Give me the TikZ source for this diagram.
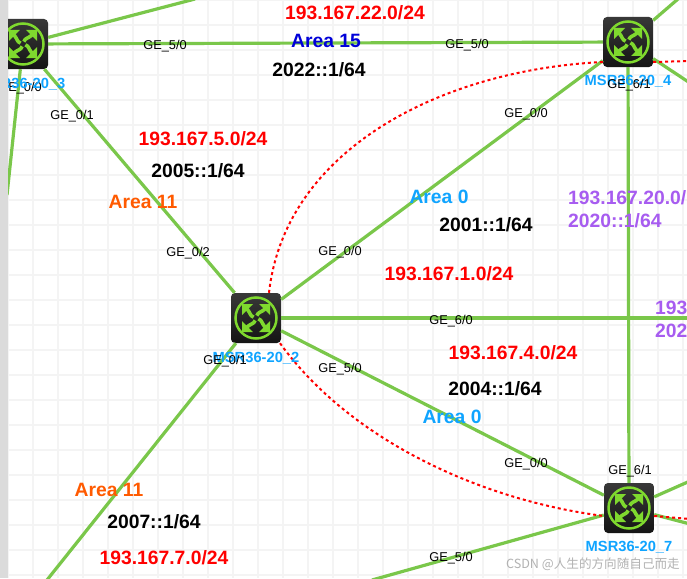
\documentclass[tikz,border=0pt]{standalone}
\usepackage{fontspec}
\setmainfont{Liberation Sans}
\newfontfamily\cjkfont{Noto Sans CJK SC}
\definecolor{gridc}{HTML}{F4F4F4}
\definecolor{linkc}{HTML}{7AC74A}
\definecolor{iconc}{HTML}{7FD92E}
\definecolor{labelblue}{HTML}{0FA4FF}
\definecolor{areaorange}{HTML}{FF5A00}
\definecolor{purplec}{HTML}{A75CF0}
\tikzset{
  x=1pt,y=-1pt,
  routerbox/.style={draw=none,minimum size=50pt,inner sep=0pt,rounded corners=4pt,top color=black!78,bottom color=black!92},
  link/.style={draw=linkc,line width=3.2pt},
  redlink/.style={draw=red,line width=2pt,dash pattern=on 3pt off 3pt},
  port/.style={font=\fontsize{12.8}{14}\selectfont,text=black,inner sep=0pt,yshift=-1.5pt},
  devname/.style={font=\bfseries\fontsize{14.7}{16}\selectfont,text=labelblue,inner sep=0pt,yshift=-1pt},
  big/.style={font=\bfseries\fontsize{19.3}{21}\selectfont,inner sep=0pt,yshift=-1pt},
  redtxt/.style={big,text=red},
  blacktxt/.style={big,text=black},
  areablue/.style={big,text=labelblue},
  areao/.style={big,text=areaorange},
  purpletxt/.style={big,text=purplec,anchor=west},
}
\newcommand{\quadarrow}[1]{%
  \begin{scope}[rotate=#1]
    \fill[iconc] (14,-14) -- (3,-14) -- (14,-3) -- cycle;
    \draw[iconc,line width=3.6pt] (9,-9) .. controls (6,-6) and (2,-6) .. (0.8,-2.4);
  \end{scope}}
\newcommand{\routericon}[1]{%
  \begin{scope}[shift={(#1.center)}]
    \draw[iconc,line width=2.5pt] (0,0) circle (20.5pt);
    \quadarrow{0}\quadarrow{90}\quadarrow{180}\quadarrow{270}
  \end{scope}}
\begin{document}
\begin{tikzpicture}
\useasboundingbox (0,0) rectangle (687,578);
\clip (0,0) rectangle (687,578);
\fill[white] (0,0) rectangle (687,578);
\foreach \i in {0,...,27} {\draw[gridc,line width=2.6pt] (8+25*\i,0) -- (8+25*\i,578);}
\foreach \j in {0,...,23} {\draw[gridc,line width=2.6pt] (0,25*\j) -- (687,25*\j);}

\node[routerbox] (r3) at (23,44) {};
\node[routerbox] (r4) at (628,42) {};
\node[routerbox] (r2) at (256,318) {};
\node[routerbox] (r7) at (629,508) {};
\routericon{r3}\routericon{r4}\routericon{r2}\routericon{r7}

\coordinate (e1) at (195,-1);
\coordinate (e2) at (7,195);
\coordinate (e3) at (678,-1);
\coordinate (e4) at (690,83);
\coordinate (e5) at (690,318);
\coordinate (e6) at (47,580);
\coordinate (e7) at (372,580);
\coordinate (e8) at (690,481);
\coordinate (e9) at (690,524);
\coordinate (e10) at (690,61);
\coordinate (e11) at (690,519);

\draw[link] (r3) -- (e1);
\draw[link] (r3) -- (r4);
\draw[link] (r3) -- (e2);
\draw[link] (r3) -- (r2);
\draw[link] (r2) -- (r4);
\draw[link] (r2) -- (e5);
\draw[link] (r2) -- (r7);
\draw[link] (r2) -- (e6);
\draw[link] (r4) -- (r7);
\draw[link] (r4) -- (e3);
\draw[link] (r4) -- (e4);
\draw[link] (r7) -- (e7);
\draw[link] (r7) -- (e8);
\draw[link] (r7) -- (e9);
\draw[redlink] (r2.north) ++(13,0) .. controls (285,150) and (440,70) .. (r4.west |- 0,62);
\draw[redlink] (r4.east |- 0,62) -- (e10);
\draw[redlink] (r2.south) ++(24,0) .. controls (350,440) and (480,500) .. (r7.west |- 0,516);
\draw[redlink] (r7.east |- 0,516) -- (e11);

\node[port] (p1) at (165,45) {GE\_5/0};
\node[port] (p2) at (467,44) {GE\_5/0};
\node[port] (p3) at (72,115) {GE\_0/1};
\node[port] (p4) at (20,87) {GE\_0/0};
\node[port] (p5) at (188,252) {GE\_0/2};
\node[port] (p6) at (340,251) {GE\_0/0};
\node[port] (p7) at (526,113) {GE\_0/0};
\node[devname] (n3) at (22,83) {MSR36-20\_3};
\node[devname] (n4) at (628,80) {MSR36-20\_4};
\node[port] (p8) at (629,84) {GE\_6/1};
\node[port] (p9) at (451,320) {GE\_6/0};
\node[devname] (n2) at (256,357) {MSR36-20\_2};
\node[port] (p10) at (225,360) {GE\_0/1};
\node[port] (p11) at (340,368) {GE\_5/0};
\node[port] (p12) at (526,463) {GE\_0/0};
\node[port] (p13) at (630,470) {GE\_6/1};
\node[devname] (n7) at (629,546) {MSR36-20\_7};
\node[port] (p14) at (451,557) {GE\_5/0};

\node[redtxt] (t1) at (355,12) {193.167.22.0/24};
\node[big,text=blue!85!black] (t2) at (326,40) {Area 15};
\node[blacktxt] (t3) at (319,69) {2022::1/64};
\node[redtxt] (t4) at (203,138) {193.167.5.0/24};
\node[blacktxt] (t5) at (198,170) {2005::1/64};
\node[areao] (t6) at (143,201) {Area 11};
\node[areablue] (t7) at (439,196) {Area 0};
\node[blacktxt] (t8) at (486,224) {2001::1/64};
\node[redtxt] (t9) at (449,273) {193.167.1.0/24};
\node[purpletxt] (t10) at (568,197) {193.167.20.0/};
\node[purpletxt] (t11) at (568,220) {2020::1/64};
\node[purpletxt] (t12) at (655,307) {193};
\node[purpletxt] (t13) at (655,330) {202};
\node[redtxt] (t14) at (513,352) {193.167.4.0/24};
\node[blacktxt] (t15) at (495,388) {2004::1/64};
\node[areablue] (t16) at (452,416) {Area 0};
\node[areao] (t17) at (109,489) {Area 11};
\node[blacktxt] (t18) at (154,521) {2007::1/64};
\node[redtxt] (t19) at (164,557) {193.167.7.0/24};
\node[font=\fontsize{12.6}{14}\selectfont\cjkfont,text=black!30,inner sep=0pt,anchor=east] (wm) at (680,564) {CSDN @人生的方向随自己而走};

\fill[black!14] (0,0) rectangle (8,578);
\end{tikzpicture}
\end{document}
